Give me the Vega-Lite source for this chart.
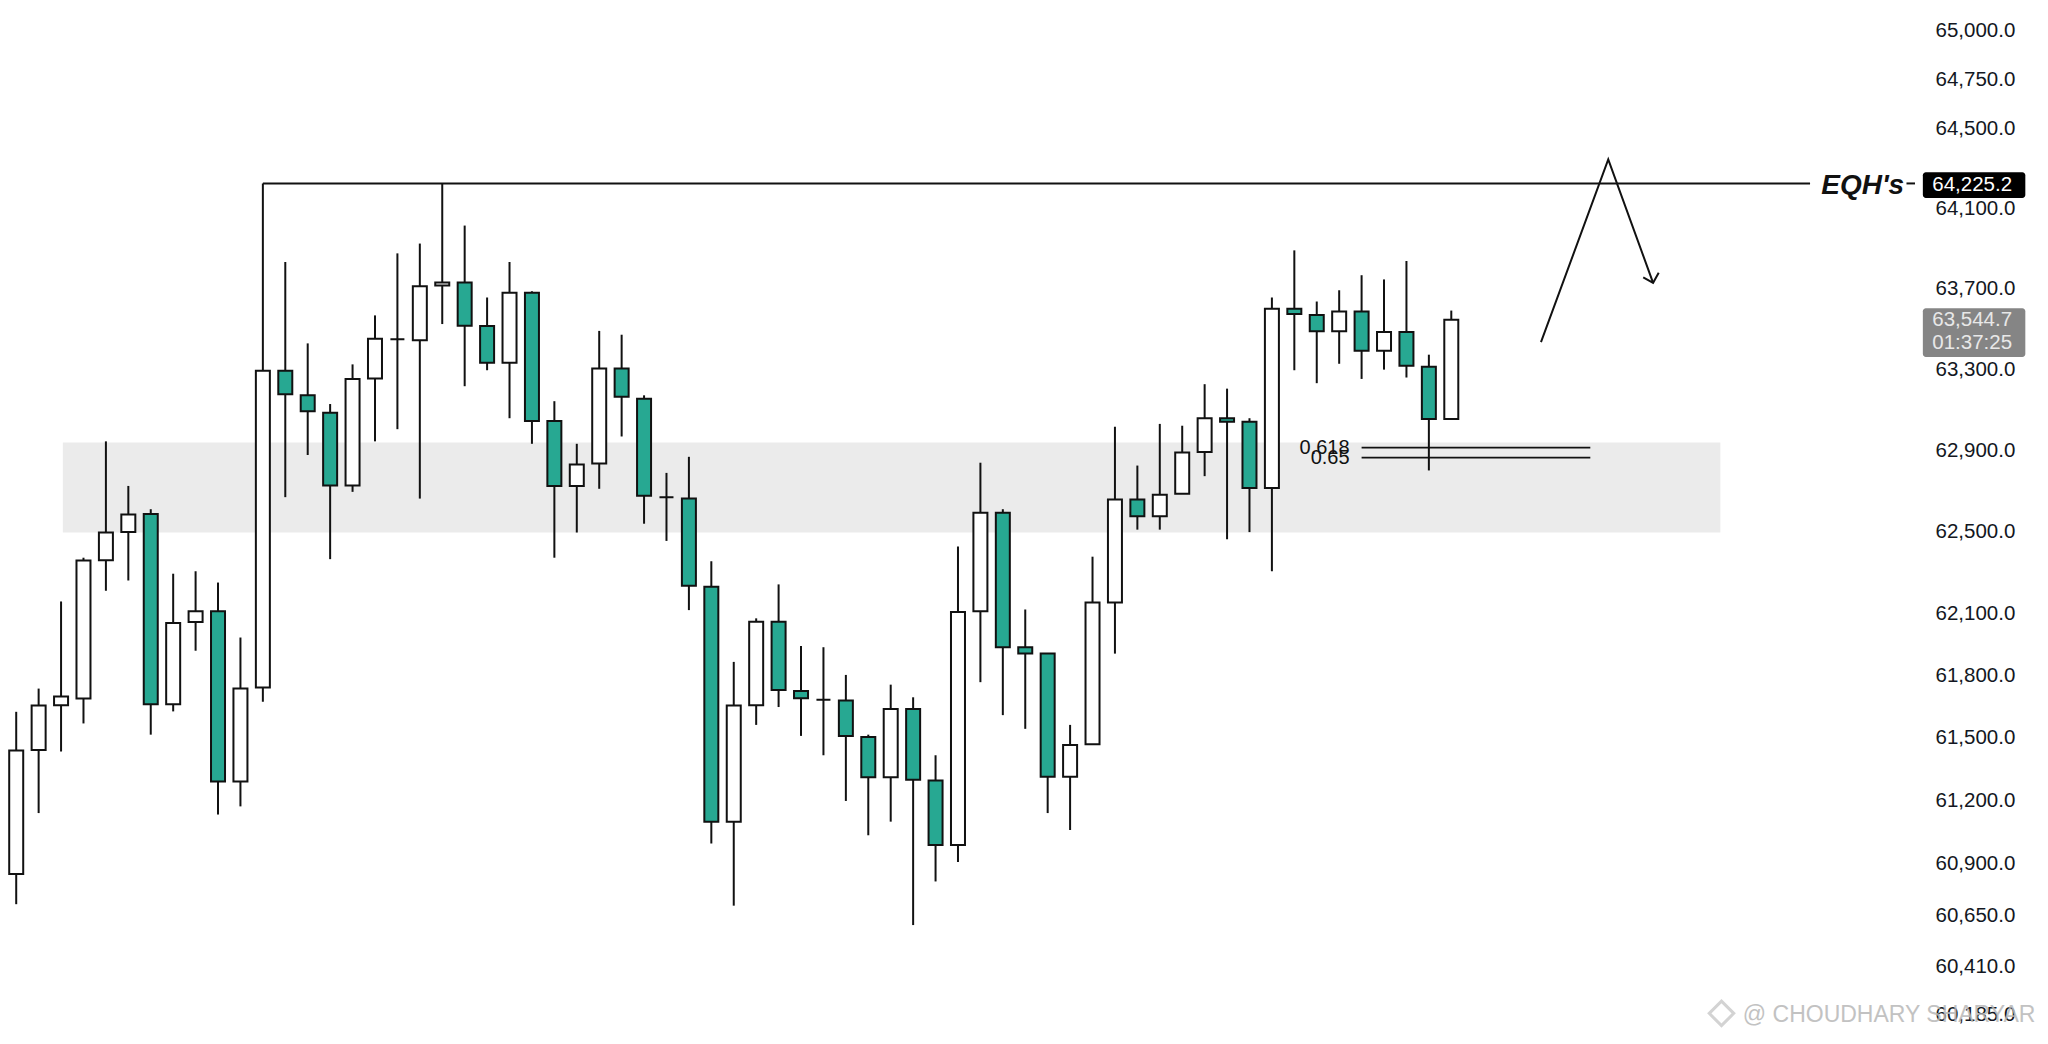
{
  "$schema": "https://vega.github.io/schema/vega-lite/v6.json",
  "width": 1920,
  "height": 1044,
  "autosize": {"type": "none"},
  "padding": {"left": 0, "top": 0, "right": 128, "bottom": 0},
  "background": "#ffffff",
  "config": {"view": {"stroke": null}},
  "datasets": {
    "candles": [
      {"i":0,"o":60849,"h":61626,"l":60706,"c":61440},
      {"i":1,"o":61442,"h":61738,"l":61140,"c":61656},
      {"i":2,"o":61658,"h":62160,"l":61435,"c":61700},
      {"i":3,"o":61690,"h":62373,"l":61570,"c":62359},
      {"i":4,"o":62361,"h":62943,"l":62212,"c":62496},
      {"i":5,"o":62498,"h":62724,"l":62262,"c":62584},
      {"i":6,"o":62586,"h":62610,"l":61516,"c":61663},
      {"i":7,"o":61663,"h":62295,"l":61628,"c":62055},
      {"i":8,"o":62060,"h":62307,"l":61921,"c":62113},
      {"i":9,"o":62113,"h":62252,"l":61133,"c":61291},
      {"i":10,"o":61291,"h":61985,"l":61172,"c":61738},
      {"i":11,"o":61743,"h":64225.2,"l":61675,"c":63292},
      {"i":12,"o":63292,"h":63832,"l":62669,"c":63175},
      {"i":13,"o":63170,"h":63427,"l":62876,"c":63091},
      {"i":14,"o":63084,"h":63127,"l":62366,"c":62726},
      {"i":15,"o":62726,"h":63323,"l":62695,"c":63251},
      {"i":16,"o":63253,"h":63566,"l":62943,"c":63450},
      {"i":17,"o":63448,"h":63875,"l":63003,"c":63448},
      {"i":18,"o":63443,"h":63924,"l":62662,"c":63711},
      {"i":19,"o":63715,"h":64225.2,"l":63523,"c":63730},
      {"i":20,"o":63730,"h":64014,"l":63215,"c":63515},
      {"i":21,"o":63513,"h":63655,"l":63294,"c":63331},
      {"i":22,"o":63331,"h":63832,"l":63057,"c":63679},
      {"i":23,"o":63679,"h":63686,"l":62931,"c":63043},
      {"i":24,"o":63043,"h":63141,"l":62373,"c":62724},
      {"i":25,"o":62724,"h":62931,"l":62496,"c":62829},
      {"i":26,"o":62834,"h":63489,"l":62710,"c":63302},
      {"i":27,"o":63302,"h":63470,"l":62967,"c":63163},
      {"i":28,"o":63153,"h":63170,"l":62539,"c":62676},
      {"i":29,"o":62669,"h":62788,"l":62455,"c":62669},
      {"i":30,"o":62662,"h":62867,"l":62118,"c":62236},
      {"i":31,"o":62231,"h":62356,"l":60995,"c":61099},
      {"i":32,"o":61099,"h":61867,"l":60699,"c":61656},
      {"i":33,"o":61658,"h":62078,"l":61563,"c":62062},
      {"i":34,"o":62062,"h":62243,"l":61649,"c":61731},
      {"i":35,"o":61726,"h":61944,"l":61510,"c":61691},
      {"i":36,"o":61684,"h":61938,"l":61417,"c":61684},
      {"i":37,"o":61680,"h":61804,"l":61198,"c":61510},
      {"i":38,"o":61505,"h":61516,"l":61034,"c":61312},
      {"i":39,"o":61312,"h":61757,"l":61099,"c":61640},
      {"i":40,"o":61640,"h":61696,"l":60607,"c":61300},
      {"i":41,"o":61296,"h":61417,"l":60814,"c":60987},
      {"i":42,"o":60987,"h":62428,"l":60906,"c":62109},
      {"i":43,"o":62113,"h":62838,"l":61769,"c":62593},
      {"i":44,"o":62593,"h":62610,"l":61610,"c":61938},
      {"i":45,"o":61938,"h":62121,"l":61544,"c":61907},
      {"i":46,"o":61907,"h":61910,"l":61140,"c":61314},
      {"i":47,"o":61314,"h":61563,"l":61059,"c":61466},
      {"i":48,"o":61470,"h":62378,"l":61470,"c":62155},
      {"i":49,"o":62155,"h":63015,"l":61907,"c":62657},
      {"i":50,"o":62657,"h":62824,"l":62510,"c":62576},
      {"i":51,"o":62576,"h":63029,"l":62510,"c":62681},
      {"i":52,"o":62686,"h":63020,"l":62686,"c":62888},
      {"i":53,"o":62891,"h":63225,"l":62772,"c":63057},
      {"i":54,"o":63057,"h":63203,"l":62463,"c":63039},
      {"i":55,"o":63039,"h":63057,"l":62498,"c":62714},
      {"i":56,"o":62714,"h":63655,"l":62307,"c":63599},
      {"i":57,"o":63599,"h":63890,"l":63294,"c":63573},
      {"i":58,"o":63568,"h":63635,"l":63230,"c":63487},
      {"i":59,"o":63487,"h":63691,"l":63326,"c":63585},
      {"i":60,"o":63585,"h":63766,"l":63251,"c":63391},
      {"i":61,"o":63391,"h":63745,"l":63297,"c":63484},
      {"i":62,"o":63484,"h":63837,"l":63258,"c":63316},
      {"i":63,"o":63311,"h":63371,"l":62800,"c":63053},
      {"i":64,"o":63053,"h":63590,"l":63053,"c":63544.7}
    ],
    "zone": [{"x1": 2.08, "x2": 76, "p1": 62496, "p2": 62937}],
    "eqh": [{"x1": 11, "x2": 80.0, "p": 64225.2}, {"x1": 84.3, "x2": 84.68, "p": 64225.2}],
    "fib": [{"x1": 60, "x2": 70.2, "p": 62912, "t": "0.618"}, {"x1": 60, "x2": 70.2, "p": 62863, "t": "0.65"}],
    "arrow": [
      {"g":"a","o":0,"x":68.0,"p":63433},
      {"g":"a","o":1,"x":71.0,"p":64346},
      {"g":"a","o":2,"x":73.0,"p":63728},
      {"g":"b","o":0,"x":72.56,"p":63755},
      {"g":"b","o":1,"x":73.0,"p":63728},
      {"g":"b","o":2,"x":73.25,"p":63778}
    ],
    "boxes": [
      {"x1": 85.03, "x2": 89.6, "p1": 64152, "p2": 64282, "col": "#000000"},
      {"x1": 85.03, "x2": 89.6, "p1": 63360, "p2": 63602, "col": "#858585"}
    ],
    "boxtext": [
      {"x": 85.45, "p": 64217, "t": "64,225.2", "col": "#ffffff"},
      {"x": 85.45, "p": 63543, "t": "63,544.7", "col": "#e8e8e8"},
      {"x": 85.45, "p": 63429, "t": "01:37:25", "col": "#e8e8e8"}
    ],
    "labels": [{"x": 80.5, "p": 64225.2, "t": "EQH's"}],
    "wm": [{"x": 77.0, "p": 60182, "t": "@ CHOUDHARY SHARYAR"}],
    "logo": [{"x": 76.05, "p": 60190}]
  },
  "layer": [
    {
      "data": {"name": "zone"},
      "mark": {"type": "rect", "color": "#ebebeb"},
      "encoding": {
        "x": {"field": "x1", "type": "quantitative", "scale": {"domain": [-0.5, 84.68], "nice": false, "zero": false}, "axis": null},
        "x2": {"field": "x2"},
        "y": {"field": "p1", "type": "quantitative", "scale": {"type": "log", "domain": [60046, 65153], "nice": false, "zero": false},
          "axis": {"orient": "right", "values": [60185, 60410, 60650, 60900, 61200, 61500, 61800, 62100, 62500, 62900, 63300, 63700, 64100, 64500, 64750, 65000],
            "format": ",.1f", "domain": false, "ticks": false, "tickSize": 0, "grid": false, "title": null,
            "labelFont": "Liberation Sans", "labelFontSize": 20.5, "labelColor": "#131722", "labelPadding": 15,
            "labelOverlap": false, "labelBound": false, "labelFlush": false, "labelBaseline": "middle"}},
        "y2": {"field": "p2"}
      }
    },
    {
      "data": {"name": "candles"},
      "mark": {"type": "rule", "color": "#111111", "strokeWidth": 2},
      "encoding": {
        "x": {"field": "i", "type": "quantitative"},
        "y": {"field": "l", "type": "quantitative"},
        "y2": {"field": "h"}
      }
    },
    {
      "data": {"name": "candles"},
      "mark": {"type": "bar", "width": 14, "stroke": "#111111", "strokeWidth": 2},
      "encoding": {
        "x": {"field": "i", "type": "quantitative"},
        "y": {"field": "o", "type": "quantitative"},
        "y2": {"field": "c"},
        "fill": {"condition": {"test": "datum.c < datum.o", "value": "#27a892"}, "value": "#ffffff"}
      }
    },
    {
      "data": {"name": "eqh"},
      "mark": {"type": "rule", "color": "#111111", "strokeWidth": 2},
      "encoding": {
        "x": {"field": "x1", "type": "quantitative"},
        "x2": {"field": "x2"},
        "y": {"field": "p", "type": "quantitative"}
      }
    },
    {
      "data": {"name": "fib"},
      "mark": {"type": "rule", "color": "#111111", "strokeWidth": 1.6},
      "encoding": {
        "x": {"field": "x1", "type": "quantitative"},
        "x2": {"field": "x2"},
        "y": {"field": "p", "type": "quantitative"}
      }
    },
    {
      "data": {"name": "fib"},
      "mark": {"type": "text", "align": "right", "baseline": "middle", "font": "Liberation Sans", "fontSize": 20, "color": "#111111", "dx": -12},
      "encoding": {
        "x": {"field": "x1", "type": "quantitative"},
        "y": {"field": "p", "type": "quantitative"},
        "text": {"field": "t"}
      }
    },
    {
      "data": {"name": "arrow"},
      "mark": {"type": "line", "color": "#111111", "strokeWidth": 2, "strokeJoin": "miter"},
      "encoding": {
        "x": {"field": "x", "type": "quantitative"},
        "y": {"field": "p", "type": "quantitative"},
        "detail": {"field": "g"},
        "order": {"field": "o", "type": "quantitative"}
      }
    },
    {
      "data": {"name": "labels"},
      "mark": {"type": "text", "align": "left", "baseline": "middle", "font": "Liberation Sans", "fontSize": 28, "fontWeight": "bold", "fontStyle": "italic", "color": "#111111", "dy": 3},
      "encoding": {
        "x": {"field": "x", "type": "quantitative"},
        "y": {"field": "p", "type": "quantitative"},
        "text": {"field": "t"}
      }
    },
    {
      "data": {"name": "boxes"},
      "mark": {"type": "rect", "cornerRadius": 3},
      "encoding": {
        "x": {"field": "x1", "type": "quantitative"},
        "x2": {"field": "x2"},
        "y": {"field": "p1", "type": "quantitative"},
        "y2": {"field": "p2"},
        "fill": {"field": "col", "type": "nominal", "scale": null}
      }
    },
    {
      "data": {"name": "boxtext"},
      "mark": {"type": "text", "align": "left", "baseline": "middle", "font": "Liberation Sans", "fontSize": 20.5},
      "encoding": {
        "x": {"field": "x", "type": "quantitative"},
        "y": {"field": "p", "type": "quantitative"},
        "text": {"field": "t"},
        "fill": {"field": "col", "type": "nominal", "scale": null}
      }
    },
    {
      "data": {"name": "wm"},
      "mark": {"type": "text", "align": "left", "baseline": "middle", "font": "Liberation Sans", "fontSize": 23, "color": "#b8b8b8", "opacity": 0.85},
      "encoding": {
        "x": {"field": "x", "type": "quantitative"},
        "y": {"field": "p", "type": "quantitative"},
        "text": {"field": "t"}
      }
    },
    {
      "data": {"name": "logo"},
      "mark": {"type": "point", "shape": "diamond", "size": 600, "filled": false, "stroke": "#cfcfcf", "strokeWidth": 3, "opacity": 0.9},
      "encoding": {
        "x": {"field": "x", "type": "quantitative"},
        "y": {"field": "p", "type": "quantitative"}
      }
    }
  ]
}
